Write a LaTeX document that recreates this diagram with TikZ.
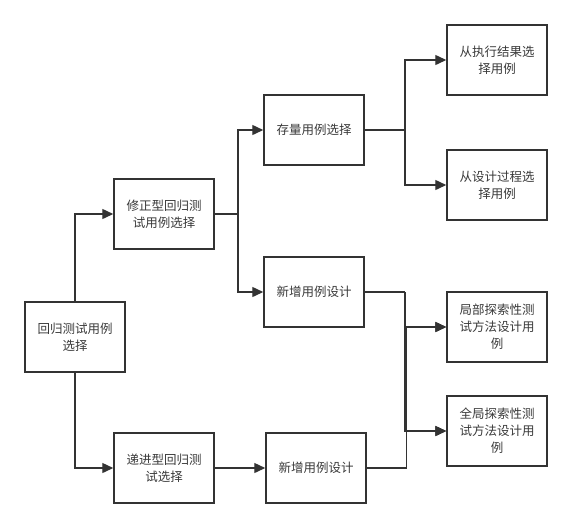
\documentclass[tikz,border=0pt]{standalone}
\usepackage{fontspec}
\newfontfamily\cjk{Noto Sans CJK SC}
\usetikzlibrary{arrows.meta}
\definecolor{ink}{HTML}{333333}
\definecolor{txt}{HTML}{3A3A3A}
\begin{document}
\begin{tikzpicture}[x=1pt,y=-1pt,
  box/.style={draw=ink,line width=1.5pt,fill=white,minimum width=100pt,minimum height=70pt,
    inner sep=0pt,align=center,text=txt,font=\cjk\fontsize{12.5}{17}\selectfont},
  link/.style={draw=ink,line width=1.4pt,-{Triangle[length=11pt,width=10pt]}},
  seg/.style={draw=ink,line width=1.4pt}]
\useasboundingbox (0,0) rectangle (572,528);
\fill[white] (0,0) rectangle (572,528);
\node[box] (root) at (75,337) {回归测试用例\\选择};
\node[box] (xz) at (164,214) {修正型回归测\\试用例选择};
\node[box] (dj) at (164,468) {递进型回归测\\试选择};
\node[box] (cl) at (314,130) {存量用例选择};
\node[box] (xz1) at (314,292) {新增用例设计};
\node[box] (xz2) at (316,468) {新增用例设计};
\node[box] (zx) at (497,60) {从执行结果选\\择用例};
\node[box] (sj) at (497,185) {从设计过程选\\择用例};
\node[box] (jb) at (497,327) {局部探索性测\\试方法设计用\\例};
\node[box] (qj) at (497,431) {全局探索性测\\试方法设计用\\例};
\coordinate (j1) at (238,214);
\coordinate (j2) at (405,130);
\coordinate (j3) at (405,292);
\coordinate (j4) at (406.5,468);
\draw[link] (root) |- (xz);
\draw[link] (root) |- (dj);
\draw[seg] (xz) -- (j1);
\draw[link] (j1) |- (cl);
\draw[link] (j1) |- (xz1);
\draw[link] (dj) -- (xz2);
\draw[seg] (cl) -- (j2);
\draw[link] (j2) |- (zx);
\draw[link] (j2) |- (sj);
\draw[seg] (xz1) -- (j3);
\draw[link] (j3) |- (jb);
\draw[link] (j3) |- (qj);
\draw[seg] (xz2) -- (j4);
\draw[link] (j4) |- (jb);
\draw[link] (j4) |- (qj);
\end{tikzpicture}
\end{document}
